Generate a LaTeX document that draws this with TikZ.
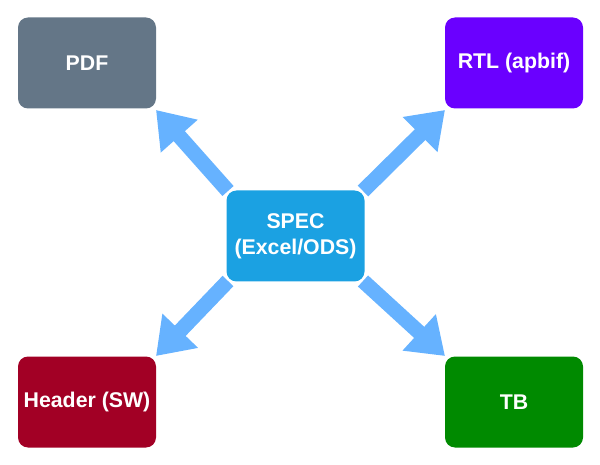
\documentclass[tikz,border=0pt]{standalone}
\usepackage{fontspec}
\setmainfont{Liberation Sans}
\usetikzlibrary{arrows.meta}

\definecolor{pdffill}{HTML}{647687}
\definecolor{rtlfill}{HTML}{6A00FF}
\definecolor{specfill}{HTML}{1BA1E2}
\definecolor{hdrfill}{HTML}{A20025}
\definecolor{tbfill}{HTML}{008A00}
\definecolor{flowline}{HTML}{66B2FF}

\begin{document}
\begin{tikzpicture}[
    x=1pt, y=-1pt,
    block/.style={rounded corners=10pt,align=center,minimum width=138pt,minimum height=91pt,
      inner sep=2pt,text=white,font=\fontsize{21.3}{26}\selectfont\bfseries},
    flow/.style={-{Triangle[width=47pt,length=35pt]},line width=15pt,draw=flowline},
]
\useasboundingbox (0,0) rectangle (600,465);

% ---------- arrows first, boxes on top ----------
\coordinate (c-nw) at (228,191);
\coordinate (c-ne) at (363,191);
\coordinate (c-sw) at (228,281);
\coordinate (c-se) at (363,281);
\coordinate (t-pdf) at (156,110);
\coordinate (t-rtl) at (445,110);
\coordinate (t-hdr) at (156,356);
\coordinate (t-tb) at (445,356);

\draw[flow] (c-nw) -- (t-pdf);
\draw[flow] (c-ne) -- (t-rtl);
\draw[flow] (c-sw) -- (t-hdr);
\draw[flow] (c-se) -- (t-tb);

% ---------- boxes ----------
\node[block,fill=specfill] (spec) at (295.5,236) {SPEC\\(Excel/ODS)};
\node[block,fill=pdffill] (pdf) at (87,63) {PDF};
\node[block,fill=rtlfill] (rtl) at (514,63) {RTL (apbif)};
\node[block,fill=hdrfill] (hdr) at (87,402) {Header (SW)};
\node[block,fill=tbfill] (tb) at (514,402) {TB};

\end{tikzpicture}
\end{document}
